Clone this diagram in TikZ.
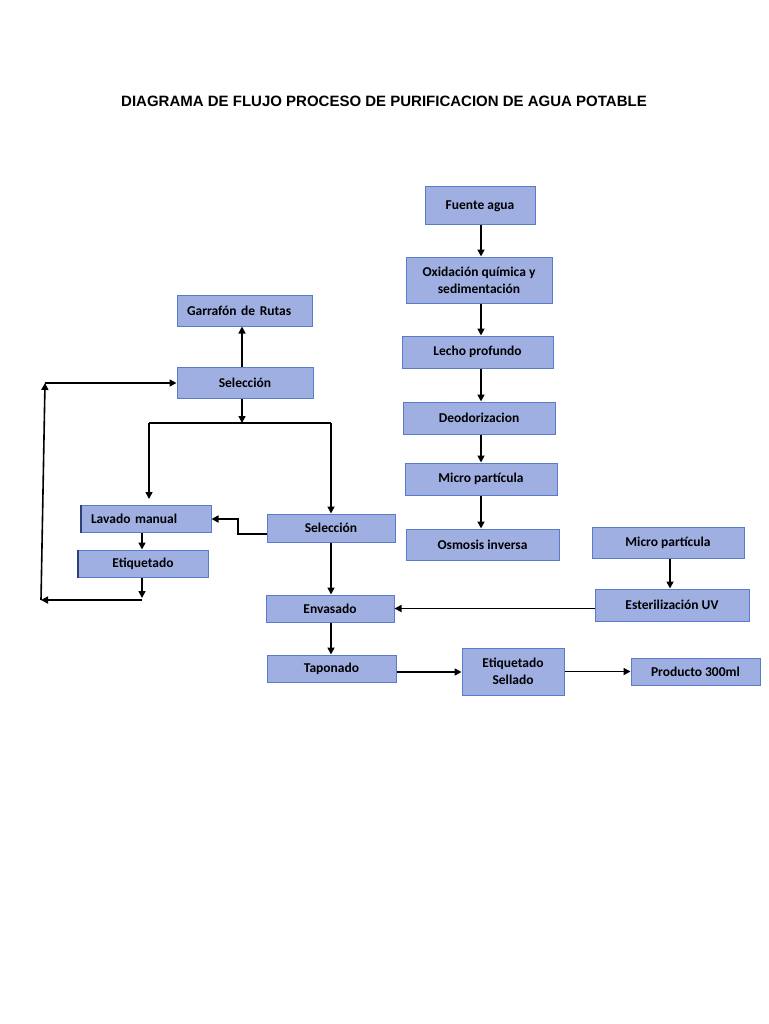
\documentclass[tikz,border=0pt]{standalone}
\usepackage{fontspec}
\setmainfont{Carlito}
\newfontfamily\titlefont{Liberation Sans}
\usetikzlibrary{arrows.meta}
\definecolor{boxfill}{HTML}{9FAFE2}
\definecolor{boxline}{HTML}{5A7BC9}
\definecolor{edgedark}{HTML}{2E3F7A}
\begin{document}
\begin{tikzpicture}[x=1pt,y=-1pt,
  box/.style={draw=boxline, fill=boxfill, line width=1pt, inner sep=0pt,
    font=\fontsize{13.5}{17}\selectfont\bfseries, align=center},
  conn/.style={line width=1.6pt, -{Triangle[length=7pt,width=7pt]}},
  plainline/.style={line width=1.6pt},
  darkedge/.style={draw=edgedark, line width=2pt}]
\useasboundingbox[fill=white] (0,0) rectangle (768,1024);

\node[font=\titlefont\bfseries\fontsize{15}{18}\selectfont] (title) at (384,101)
  {DIAGRAMA DE FLUJO PROCESO DE PURIFICACION DE AGUA POTABLE};

% central column
\node[box, minimum width=110, minimum height=38] (fuente) at (480,206) {Fuente agua};
\node[box, minimum width=146, minimum height=46] (ox) at (479,280) {Oxidación química y\\sedimentación};
\node[box, minimum width=151, minimum height=32] (lecho) at (477.5,352) {Lecho profundo};
\node[box, minimum width=152, minimum height=32] (deo) at (479,418) {Deodorizacion};
\node[box, minimum width=152, minimum height=32] (microc) at (481,479) {Micro partícula};
\node[box, minimum width=153, minimum height=31] (osmo) at (482.5,544.5) {Osmosis inversa};

% right
\node[box, minimum width=152, minimum height=31] (micror) at (668,542.5) {Micro partícula};
\node[box, minimum width=154, minimum height=32] (ester) at (672,605) {Esterilización UV};

% left
\node[box, minimum width=135, minimum height=31, text width=115, align=left] (garrafon) at (244.5,310.5) {Garrafón de Rutas};
\node[box, minimum width=136, minimum height=31] (seltop) at (245,382.5) {Selección};
\node[box, minimum width=130, minimum height=27, text width=110, align=left] (lavado) at (146,518.5) {Lavado manual};
\node[box, minimum width=130, minimum height=27] (etiq) at (143,563.5) {Etiquetado};
\node[box, minimum width=128, minimum height=28] (selmid) at (331,528) {Selección};
\node[box, minimum width=128, minimum height=27] (envasado) at (330,608.5) {Envasado};
\node[box, minimum width=129, minimum height=27] (taponado) at (331.5,668.5) {Taponado};
\node[box, minimum width=102, minimum height=47] (etiqs) at (513,671.5) {Etiquetado\\Sellado};
\node[box, minimum width=129, minimum height=27] (producto) at (695.5,671.5) {Producto 300ml};

% dark left edges
\draw[darkedge] (lavado.north west) -- (lavado.south west);
\draw[darkedge] (etiq.north west) -- (etiq.south west);

% central chain
\coordinate (cx) at (481,0);
\draw[conn] (fuente.south -| cx) -- (ox.north -| cx);
\draw[conn] (ox.south -| cx) -- (lecho.north -| cx);
\draw[conn] (lecho.south -| cx) -- (deo.north -| cx);
\draw[conn] (deo.south -| cx) -- (microc.north -| cx);
\draw[conn] (microc.south -| cx) -- (osmo.north -| cx);

% right chain
\coordinate (mx) at (670,0);
\draw[conn] (micror.south -| mx) -- (ester.north -| mx);
\draw[conn] (ester.west |- envasado) -- (envasado.east);

% selection top
\coordinate (gx) at (242,0);
\draw[conn] (seltop.north -| gx) -- (garrafon.south -| gx);
\coordinate (j) at (242,423);
\coordinate (jl) at (149,423);
\coordinate (jr) at (331,423);
\coordinate (jlend) at (149,499);
\draw[conn] (seltop.south -| gx) -- (j);
\draw[plainline] (jl) -- (jr);
\draw[conn] (jl) -- (jlend);
\draw[conn] (jr) -- (selmid.north -| jr);

% selmid -> lavado
\coordinate (k) at (238,534);
\coordinate (k2) at (238,519);
\draw[conn] (selmid.west |- k) -- (k) -- (k2) -- (lavado.east |- k2);

% lavado -> etiquetado -> loop
\coordinate (ex) at (142,0);
\draw[conn] (lavado.south -| ex) -- (etiq.north -| ex);
\coordinate (e1) at (142,598);
\coordinate (e2) at (142,600);
\coordinate (e3) at (41,600);
\coordinate (e4) at (45,383);
\draw[conn] (etiq.south -| ex) -- (e1);
\draw[conn] (e2) -- (e3);
\draw[conn] (e3) -- (e4);
\draw[conn] (e4) -- (seltop.west |- e4);

% lower chain
\draw[conn] (selmid.south) -- (selmid.south |- envasado.north);
\draw[conn] (envasado.south -| selmid.south) -- (taponado.north -| selmid.south);
\draw[conn] ([yshift=-3.5pt]taponado.east) -- ([yshift=-3.5pt]taponado.east -| etiqs.west);
\draw[conn] (etiqs.east) -- (producto.west);
\end{tikzpicture}
\end{document}
